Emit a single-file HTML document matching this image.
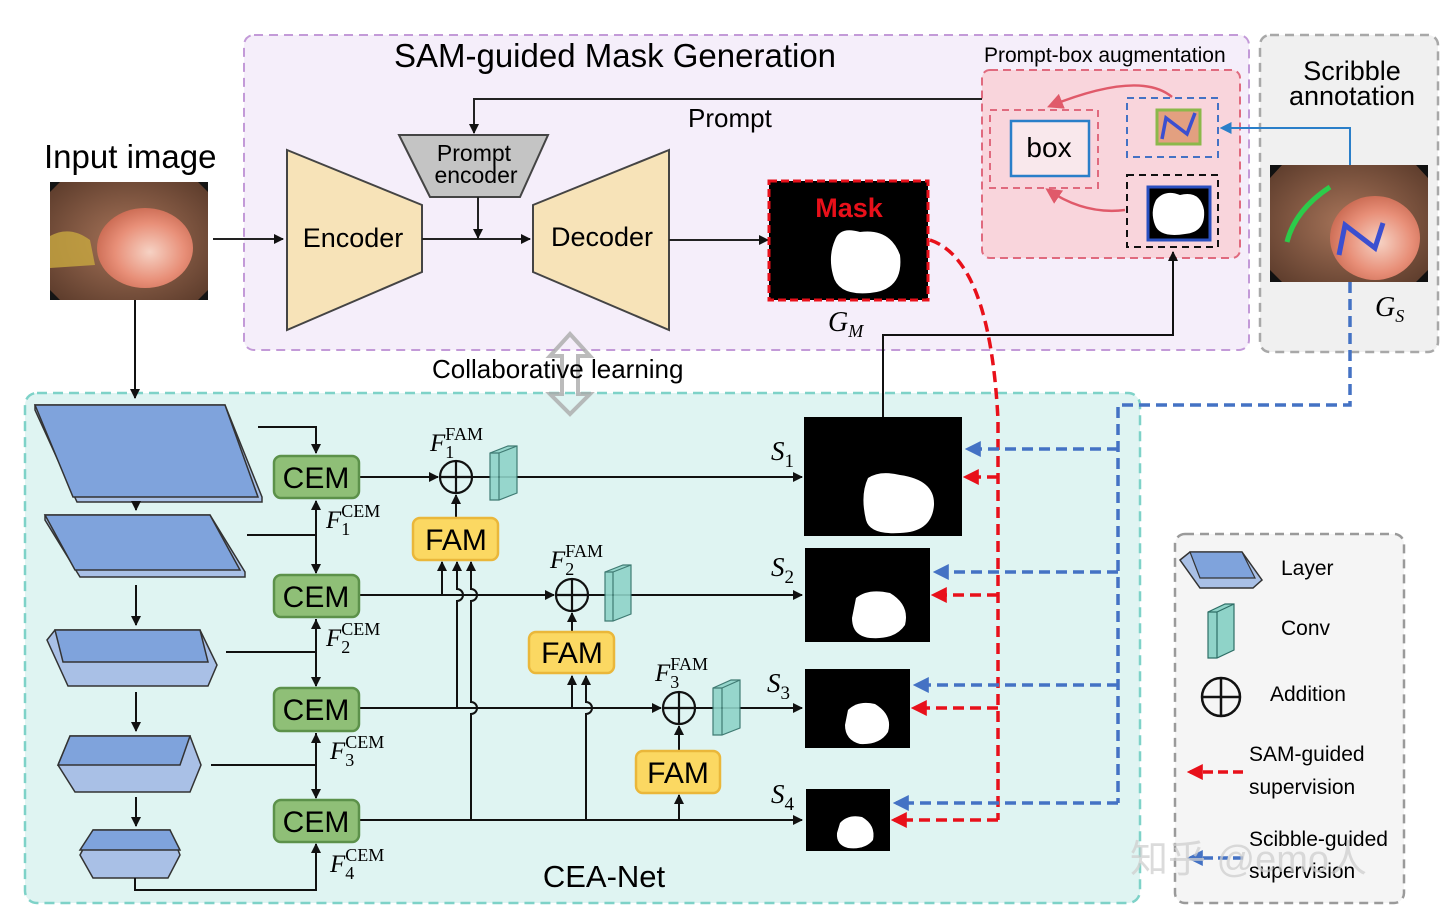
<!DOCTYPE html>
<html><head><meta charset="utf-8"><style>
html,body{margin:0;padding:0;background:#fff}
svg{display:block}
text{font-family:"Liberation Sans",sans-serif}
.sf text,text.sf{font-family:"Liberation Serif","DejaVu Serif",serif}
</style></head><body>
<svg width="1440" height="916" viewBox="0 0 1440 916" xmlns="http://www.w3.org/2000/svg">
<defs>
<marker id="a" viewBox="0 0 10 10" refX="9" refY="5" markerWidth="10" markerHeight="10" markerUnits="userSpaceOnUse" orient="auto"><path d="M0,0L10,5L0,10z" fill="#111"/></marker>
<marker id="ar" viewBox="0 0 10 10" refX="8" refY="5" markerWidth="16" markerHeight="16" markerUnits="userSpaceOnUse" orient="auto"><path d="M0,0L10,5L0,10z" fill="#e8101a"/></marker>
<marker id="ab" viewBox="0 0 10 10" refX="8" refY="5" markerWidth="16" markerHeight="16" markerUnits="userSpaceOnUse" orient="auto"><path d="M0,0L10,5L0,10z" fill="#4472c4"/></marker>
<marker id="ap" viewBox="0 0 10 10" refX="8" refY="5" markerWidth="16" markerHeight="16" markerUnits="userSpaceOnUse" orient="auto"><path d="M0,0L10,5L0,10z" fill="#e05a6a"/></marker>
<marker id="abl" viewBox="0 0 10 10" refX="8" refY="5" markerWidth="12" markerHeight="12" markerUnits="userSpaceOnUse" orient="auto"><path d="M0,0L10,5L0,10z" fill="#2a7fc9"/></marker>
<radialGradient id="polyp" cx="0.55" cy="0.55" r="0.6"><stop offset="0" stop-color="#f6d2c4"/><stop offset="0.6" stop-color="#e88f78"/><stop offset="1" stop-color="#c86850"/></radialGradient>
<radialGradient id="bg" cx="0.5" cy="0.5" r="0.7"><stop offset="0" stop-color="#a8755a"/><stop offset="1" stop-color="#5a3a2a"/></radialGradient>
</defs>

<rect x="244" y="35" width="1005" height="315" rx="10" fill="#f5eefa" stroke="#c39ad8" stroke-width="2" stroke-dasharray="9,6"/>
<text x="615" y="67" font-size="33" text-anchor="middle">SAM-guided Mask Generation</text>
<rect x="1260" y="35" width="178" height="317" rx="10" fill="#f0f0f0" stroke="#a8a8a8" stroke-width="2.5" stroke-dasharray="9,6"/>
<text x="1352" y="80" font-size="27" text-anchor="middle">Scribble</text>
<text x="1352" y="105" font-size="27" text-anchor="middle">annotation</text>
<rect x="25" y="393" width="1115" height="510" rx="12" fill="#dff4f2" stroke="#7ed2c8" stroke-width="2.5" stroke-dasharray="10,6"/>
<text x="604" y="887" font-size="31" text-anchor="middle">CEA-Net</text>
<rect x="1175" y="534" width="229" height="369" rx="10" fill="#f5f5f5" stroke="#9a9a9a" stroke-width="2.5" stroke-dasharray="9,6"/>

<text x="984" y="62" font-size="21">Prompt-box augmentation</text>
<rect x="982" y="70" width="258" height="188" rx="8" fill="#f9d5dc" stroke="#e06a7e" stroke-width="2" stroke-dasharray="8,5"/>
<rect x="990" y="110" width="108" height="78" fill="none" stroke="#e06a7e" stroke-width="2" stroke-dasharray="7,5"/>
<rect x="1011" y="121" width="78" height="55" fill="#f9e8ec" stroke="#2a7fc9" stroke-width="2.5"/>
<text x="1049" y="157" font-size="28" text-anchor="middle">box</text>
<rect x="1127" y="98" width="91" height="59" fill="none" stroke="#4472c4" stroke-width="2" stroke-dasharray="7,5"/>
<rect x="1157" y="110" width="43" height="34" fill="#e3a080" stroke="#8cb84a" stroke-width="3"/>
<path d="M1162,139 L1166,118 L1187,134 L1195,113" fill="none" stroke="#3b4fd0" stroke-width="3.5"/>
<rect x="1127" y="175" width="91" height="72" fill="none" stroke="#111" stroke-width="2" stroke-dasharray="7,5"/>
<rect x="1148" y="187" width="62" height="53" fill="#000" stroke="#2a50c0" stroke-width="3"/>
<path d="M1156,200 Q1165,189 1180,195 Q1200,190 1204,210 Q1206,232 1185,234 Q1160,238 1155,225 Q1150,212 1156,200z" fill="#fff"/>
<path d="M1172,97 Q1140,70 1050,106" fill="none" stroke="#e05a6a" stroke-width="2.5" marker-end="url(#ap)"/>
<path d="M1125,210 Q1085,215 1048,190" fill="none" stroke="#e05a6a" stroke-width="2.5" marker-end="url(#ap)"/>
<path d="M1350,165 L1350,128 L1222,128" fill="none" stroke="#2a7fc9" stroke-width="2" marker-end="url(#abl)"/>

<rect x="1270" y="165" width="158" height="117" fill="#111"/>
<path d="M1282,165 H1416 L1428,178 V270 L1416,282 H1282 L1270,270 V178z" fill="url(#bg)"/>
<ellipse cx="1375" cy="238" rx="45" ry="42" fill="url(#polyp)"/>
<path d="M1287,242 Q1295,210 1330,187" fill="none" stroke="#2ccb4a" stroke-width="5"/>
<path d="M1339,255 L1345,225 L1375,248 L1383,223" fill="none" stroke="#3b4fd0" stroke-width="5"/>
<text x="1375" y="316" font-size="28" font-style="italic" class="sf">G<tspan font-size="18" dy="6">S</tspan></text>

<text x="44" y="168" font-size="33">Input image</text>
<rect x="50" y="182" width="158" height="118" fill="#151515"/>
<path d="M60,182 H198 L208,192 V290 L198,300 H60 L50,290 V192z" fill="url(#bg)"/>
<path d="M50,236 Q70,225 90,240 L95,265 L50,268z" fill="#c8a840" opacity="0.8"/>
<ellipse cx="145" cy="248" rx="48" ry="40" fill="url(#polyp)"/>
<path d="M135,300 V398" stroke="#111" stroke-width="2" marker-end="url(#a)"/>
<path d="M213,239 H283" stroke="#222" stroke-width="2" marker-end="url(#a)"/>

<polygon points="287,150 422,205 422,272 287,330" fill="#f7e3b8" stroke="#444" stroke-width="2"/>
<text x="353" y="247" font-size="27" text-anchor="middle">Encoder</text>
<polygon points="669,150 533,205 533,272 669,330" fill="#f7e3b8" stroke="#444" stroke-width="2"/>
<text x="602" y="246" font-size="27" text-anchor="middle">Decoder</text>
<polygon points="399,135 548,135 520,197 430,197" fill="#c4c4c4" stroke="#444" stroke-width="2"/>
<text x="474" y="161" font-size="23" text-anchor="middle">Prompt</text>
<text x="476" y="183" font-size="23" text-anchor="middle">encoder</text>
<path d="M422,239 H530" stroke="#222" stroke-width="2" marker-end="url(#a)"/>
<path d="M478,197 V238" stroke="#222" stroke-width="2" marker-end="url(#a)"/>
<path d="M669,240 H768" stroke="#222" stroke-width="2" marker-end="url(#a)"/>
<path d="M982,99 H474 V133" fill="none" stroke="#222" stroke-width="2" marker-end="url(#a)"/>
<text x="688" y="127" font-size="26">Prompt</text>

<rect x="769" y="181" width="159" height="119" fill="#000" stroke="#e8101a" stroke-width="3" stroke-dasharray="8,4"/>
<text x="849" y="217" font-size="27" font-weight="bold" fill="#e8101a" text-anchor="middle">Mask</text>
<path d="M835,240 Q840,226 860,232 Q890,228 900,255 Q904,290 870,293 Q838,296 833,275 Q828,256 835,240z" fill="#fff"/>
<text x="828" y="331" font-size="28" font-style="italic" class="sf">G<tspan font-size="18" dy="6">M</tspan></text>
<path d="M883,417 V335 H1173 V252" fill="none" stroke="#111" stroke-width="2" marker-end="url(#a)"/>

<path d="M570,334 L550,356 H562 V394 L550,394 L570,414 L590,394 H578 V356 H590z" fill="none" stroke="#aaa" stroke-width="4" opacity="0.8"/>
<text x="432" y="378" font-size="26">Collaborative learning</text>

<g stroke="#333" stroke-width="1.5">
<polygon points="35,405 225,405 262,497 262,502 77,502 35,410" fill="#a9c0e6"/>
<polygon points="35,405 225,405 258,497 73,497" fill="#7fa3dc"/>
<polygon points="45,515 210,515 245,572 245,577 80,577 45,520" fill="#a9c0e6"/>
<polygon points="45,515 210,515 240,570 75,570" fill="#7fa3dc"/>
<polygon points="47,640 55,630 200,630 217,665 208,686 68,686" fill="#a9c0e6"/>
<polygon points="55,630 200,630 208,662 63,662" fill="#7fa3dc"/>
<polygon points="58,765 70,736 190,736 201,765 190,792 75,792" fill="#a9c0e6"/>
<polygon points="70,736 190,736 180,765 58,765" fill="#7fa3dc"/>
<polygon points="80,855 93,830 170,830 180,855 168,878 93,878" fill="#a9c0e6"/>
<polygon points="93,830 170,830 180,850 80,850" fill="#7fa3dc"/>
</g>
<g stroke="#111" stroke-width="2" fill="none">
<path d="M136,502 V510" marker-end="url(#a)"/>
<path d="M136,585 V625" marker-end="url(#a)"/>
<path d="M136,692 V731" marker-end="url(#a)"/>
<path d="M136,797 V826" marker-end="url(#a)"/>
<path d="M258,427 H316 V453" marker-end="url(#a)"/>
<path d="M247,535 H316"/>
<path d="M226,652 H316"/>
<path d="M211,765 H316"/>
<path d="M135,878 V890 H316 V844" marker-end="url(#a)"/>
<path d="M316,502 V573" marker-end="url(#a)"/><path d="M316,570 V501" marker-end="url(#a)"/>
<path d="M316,619 V686" marker-end="url(#a)"/><path d="M316,683 V620" marker-end="url(#a)"/>
<path d="M316,733 V798" marker-end="url(#a)"/><path d="M316,795 V734" marker-end="url(#a)"/>
<path d="M359,477 H438" marker-end="url(#a)"/><path d="M472,477 H802" marker-end="url(#a)"/>
<path d="M359,595 H554" marker-end="url(#a)"/><path d="M588,595 H802" marker-end="url(#a)"/>
<path d="M359,708 H661" marker-end="url(#a)"/><path d="M695,708 H802" marker-end="url(#a)"/>
<path d="M359,820 H802" marker-end="url(#a)"/>
<path d="M456,518 V495" marker-end="url(#a)"/>
<path d="M572,632 V613" marker-end="url(#a)"/>
<path d="M679,751 V726" marker-end="url(#a)"/>
<path d="M442,595 V562" marker-end="url(#a)"/>
<path d="M457,708 V601 a6,6 0 0 0 0,-12 V562" marker-end="url(#a)"/>
<path d="M471,820 V714 a6,6 0 0 0 0,-12 V601 a6,6 0 0 0 0,-12 V562" marker-end="url(#a)"/>
<path d="M572,708 V676" marker-end="url(#a)"/>
<path d="M586,820 V714 a6,6 0 0 0 0,-12 V676" marker-end="url(#a)"/>
<path d="M679,820 V795" marker-end="url(#a)"/>
</g>
<g stroke="#111" stroke-width="2.2" fill="none">
<circle cx="456" cy="477" r="16"/><path d="M440,477H472M456,461V493"/>
<circle cx="572" cy="595" r="16"/><path d="M556,595H588M572,579V611"/>
<circle cx="679" cy="708" r="16"/><path d="M663,708H695M679,692V724"/>
</g>
<g stroke="#2e6e66" stroke-width="1.2" fill="#8fd3c8" opacity="0.9">
<polygon points="490,453 508,446 517,446 517,493 499,500 490,500"/><path d="M490,453H499V500M499,453L517,446" fill="none"/>
<polygon points="605,572 623,565 631,565 631,614 613,621 605,621"/><path d="M605,572H613V621M613,572L631,565" fill="none"/>
<polygon points="713,688 731,680 740,680 740,728 722,735 713,735"/><path d="M713,688H722V735M722,688L740,680" fill="none"/>
</g>
<g fill="#8fbf77" stroke="#5c914a" stroke-width="2.5">
<rect x="274" y="456" width="85" height="42" rx="7"/>
<rect x="274" y="575" width="85" height="42" rx="7"/>
<rect x="274" y="688" width="85" height="43" rx="7"/>
<rect x="274" y="800" width="85" height="42" rx="7"/>
</g>
<g font-size="30" text-anchor="middle">
<text x="316" y="488">CEM</text><text x="316" y="607">CEM</text><text x="316" y="720">CEM</text><text x="316" y="832">CEM</text>
</g>
<g fill="#fbd862" stroke="#eab73a" stroke-width="2.5">
<rect x="413" y="518" width="85" height="42" rx="7"/>
<rect x="529" y="632" width="85" height="41" rx="7"/>
<rect x="636" y="751" width="84" height="42" rx="7"/>
</g>
<g font-size="30" text-anchor="middle">
<text x="456" y="550">FAM</text><text x="572" y="663">FAM</text><text x="678" y="783">FAM</text>
</g>
<g class="sf" font-size="25">
<text x="430" y="451" font-style="italic">F<tspan font-size="18" font-style="normal" dy="7">1</tspan><tspan font-size="18" font-style="normal" dx="-9" dy="-18">FAM</tspan></text>
<text x="550" y="568" font-style="italic">F<tspan font-size="18" font-style="normal" dy="7">2</tspan><tspan font-size="18" font-style="normal" dx="-9" dy="-18">FAM</tspan></text>
<text x="655" y="681" font-style="italic">F<tspan font-size="18" font-style="normal" dy="7">3</tspan><tspan font-size="18" font-style="normal" dx="-9" dy="-18">FAM</tspan></text>
<text x="326" y="528" font-style="italic">F<tspan font-size="18" font-style="normal" dy="7">1</tspan><tspan font-size="18" font-style="normal" dx="-9" dy="-18">CEM</tspan></text>
<text x="326" y="646" font-style="italic">F<tspan font-size="18" font-style="normal" dy="7">2</tspan><tspan font-size="18" font-style="normal" dx="-9" dy="-18">CEM</tspan></text>
<text x="330" y="759" font-style="italic">F<tspan font-size="18" font-style="normal" dy="7">3</tspan><tspan font-size="18" font-style="normal" dx="-9" dy="-18">CEM</tspan></text>
<text x="330" y="872" font-style="italic">F<tspan font-size="18" font-style="normal" dy="7">4</tspan><tspan font-size="18" font-style="normal" dx="-9" dy="-18">CEM</tspan></text>
<text x="771" y="460" font-style="italic" font-size="27">S<tspan font-size="19" font-style="normal" dy="7">1</tspan></text>
<text x="771" y="576" font-style="italic" font-size="27">S<tspan font-size="19" font-style="normal" dy="7">2</tspan></text>
<text x="767" y="692" font-style="italic" font-size="27">S<tspan font-size="19" font-style="normal" dy="7">3</tspan></text>
<text x="771" y="803" font-style="italic" font-size="27">S<tspan font-size="19" font-style="normal" dy="7">4</tspan></text>
</g>
<rect x="804" y="417" width="158" height="119" fill="#000"/>
<path d="M868,478 Q880,470 900,475 Q935,480 934,505 Q932,532 900,533 Q870,535 866,520 Q860,495 868,478z" fill="#fff"/>
<rect x="805" y="548" width="125" height="94" fill="#000"/>
<path d="M856,598 Q868,588 890,593 Q910,605 905,625 Q895,640 870,638 Q852,636 852,618z" fill="#fff"/>
<rect x="805" y="669" width="105" height="79" fill="#000"/>
<path d="M848,710 Q858,700 875,704 Q893,715 888,732 Q880,745 860,744 Q845,740 845,725z" fill="#fff"/>
<rect x="806" y="789" width="84" height="62" fill="#000"/>
<path d="M840,823 Q848,814 862,817 Q876,825 873,840 Q865,850 848,848 Q836,845 837,833z" fill="#fff"/>

<g fill="none" stroke="#e8101a" stroke-width="3.5" stroke-dasharray="11,6">
<path d="M930,240 Q990,260 998,420 V820"/>
<path d="M998,477 H966" marker-end="url(#ar)"/>
<path d="M998,595 H934" marker-end="url(#ar)"/>
<path d="M998,708 H914" marker-end="url(#ar)"/>
<path d="M998,820 H894" marker-end="url(#ar)"/>
</g>
<g fill="none" stroke="#4472c4" stroke-width="3.5" stroke-dasharray="11,6">
<path d="M1350,282 V405 H1118 V803"/>
<path d="M1118,449 H968" marker-end="url(#ab)"/>
<path d="M1118,572 H936" marker-end="url(#ab)"/>
<path d="M1118,685 H916" marker-end="url(#ab)"/>
<path d="M1118,803 H896" marker-end="url(#ab)"/>
</g>

<polygon points="1180,560 1190,552 1242,552 1262,580 1253,588 1200,588" fill="#a9c0e6" stroke="#333" stroke-width="1.5"/>
<polygon points="1190,552 1242,552 1255,578 1200,578" fill="#7fa3dc" stroke="#333" stroke-width="1.2"/>
<text x="1281" y="575" font-size="21">Layer</text>
<polygon points="1208,612 1225,604 1234,604 1234,650 1217,658 1208,658" fill="#8fd3c8" stroke="#2e6e66" stroke-width="1.2"/>
<path d="M1208,612H1217V658M1217,612L1234,604" fill="none" stroke="#2e6e66" stroke-width="1.2"/>
<text x="1281" y="635" font-size="21">Conv</text>
<circle cx="1221" cy="697" r="19" fill="none" stroke="#111" stroke-width="2.5"/>
<path d="M1202,697H1240M1221,678V716" stroke="#111" stroke-width="2.5"/>
<text x="1270" y="701" font-size="21">Addition</text>
<path d="M1243,772 H1190" fill="none" stroke="#e8101a" stroke-width="3.5" stroke-dasharray="10,5" marker-end="url(#ar)"/>
<text x="1249" y="761" font-size="21">SAM-guided</text>
<text x="1249" y="794" font-size="21">supervision</text>
<path d="M1243,858 H1190" fill="none" stroke="#4472c4" stroke-width="3.5" stroke-dasharray="10,5" marker-end="url(#ab)"/>
<text x="1249" y="846" font-size="21">Scibble-guided</text>
<text x="1249" y="878" font-size="21">supervision</text>
<text x="1130" y="872" font-size="38" fill="#cfcfcf" opacity="0.75" font-family="'Liberation Sans','Noto Sans CJK SC',sans-serif">知乎 @emo人</text>
</svg>
</body></html>
